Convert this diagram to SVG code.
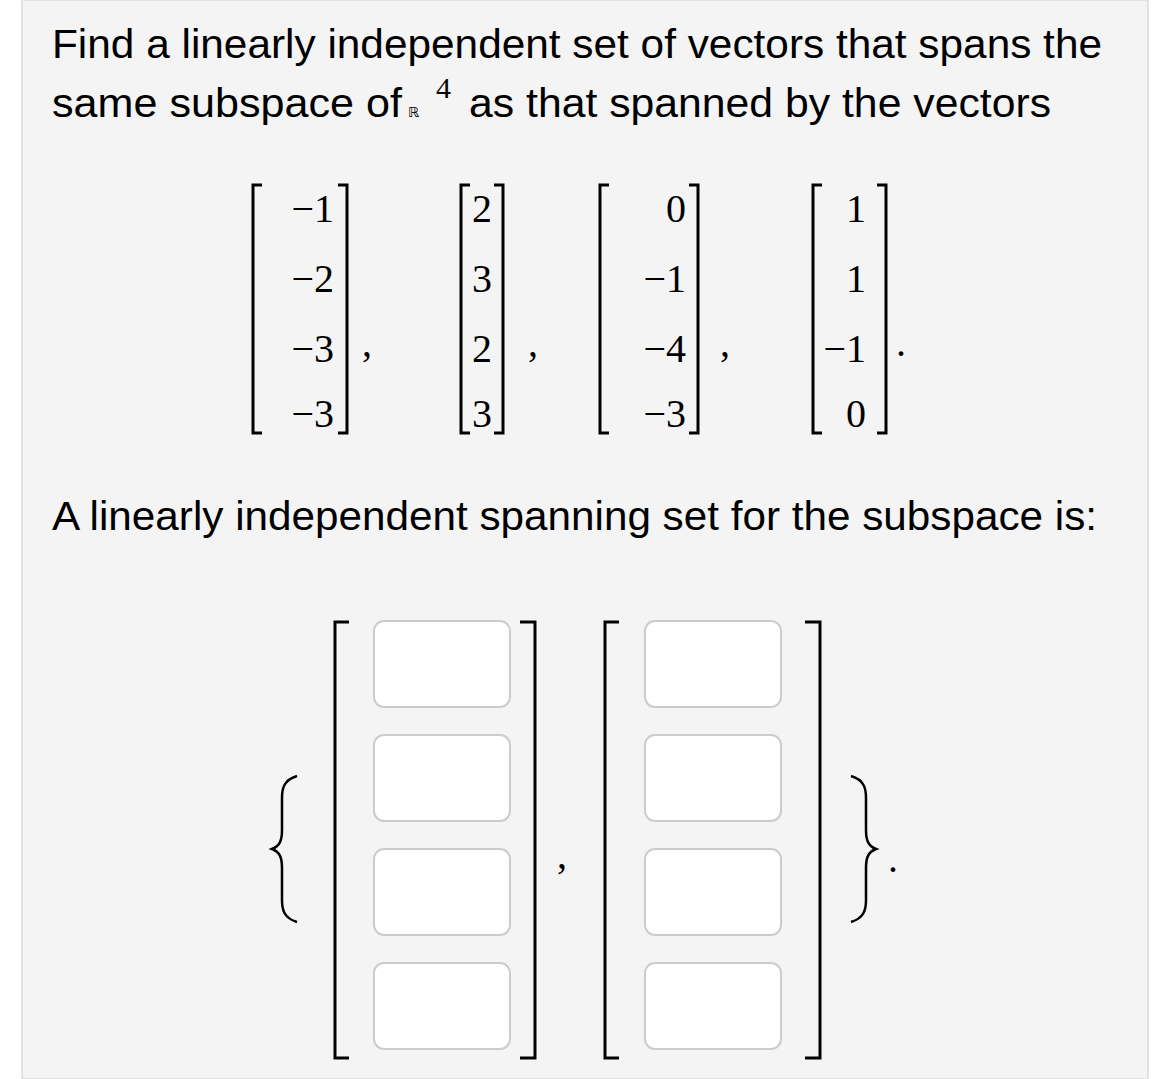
<svg xmlns="http://www.w3.org/2000/svg" width="1170" height="1079" viewBox="0 0 1170 1079">
<style>
.t{font-family:"Liberation Sans",Arial,sans-serif;font-size:41px;fill:#000}
.m{font-family:"Liberation Serif","Times New Roman",serif;font-size:40px;fill:#000}
.br{fill:none;stroke:#000;stroke-width:3}
.box{fill:#fff;stroke:#ccc;stroke-width:2}
</style>
<rect width="1170" height="1079" fill="#fff"/>
<rect x="22" y="0" width="1126" height="1079" fill="#f4f4f4" stroke="#e2e2e2" stroke-width="2"/>
<text class="t" x="52" y="58" textLength="1050" lengthAdjust="spacingAndGlyphs">Find a linearly independent set of vectors that spans the</text>
<text class="t" x="52" y="117" textLength="350" lengthAdjust="spacingAndGlyphs">same subspace of</text>
<text x="408" y="117" style="font-family:'DejaVu Sans',sans-serif;font-size:14px">ℝ</text>
<text class="m" x="436" y="98" style="font-size:30px">4</text>
<text class="t" x="469" y="117" textLength="582" lengthAdjust="spacingAndGlyphs">as that spanned by the vectors</text>
<g id="v1">
<path class="br" d="M262 185H253V433H262M338 185H347V433H338"/>
<g class="m" text-anchor="end"><text x="334" y="222">−1</text><text x="334" y="292">−2</text><text x="334" y="362">−3</text><text x="334" y="427">−3</text></g>
<text class="m" x="362" y="356">,</text></g>
<g id="v2">
<path class="br" d="M470 185H461V433H470M494 185H503V433H494"/>
<g class="m" text-anchor="middle"><text x="482" y="222">2</text><text x="482" y="292">3</text><text x="482" y="362">2</text><text x="482" y="427">3</text></g>
<text class="m" x="528" y="356">,</text></g>
<g id="v3">
<path class="br" d="M609 185H600V433H609M689 185H698V433H689"/>
<g class="m" text-anchor="end"><text x="686" y="222">0</text><text x="686" y="292">−1</text><text x="686" y="362">−4</text><text x="686" y="427">−3</text></g>
<text class="m" x="720" y="356">,</text></g>
<g id="v4">
<path class="br" d="M822 185H813V433H822M877 185H886V433H877"/>
<g class="m" text-anchor="end"><text x="866" y="222">1</text><text x="866" y="292">1</text><text x="866" y="362">−1</text><text x="866" y="427">0</text></g>
<text class="m" x="896" y="356">.</text></g>
<text class="t" x="52" y="530" textLength="1045" lengthAdjust="spacingAndGlyphs">A linearly independent spanning set for the subspace is:</text>
<path d="M297 776C284 780 282 788 282 798V830C282 840 280 846 272 849C280 852 282 858 282 868V900C282 910 284 918 297 922" fill="none" stroke="#000" stroke-width="2.5"/>
<g id="a1">
<path class="br" d="M349 622H335V1058H349M520 622H535V1058H520"/>
<rect class="box" x="374" y="621" width="136" height="86" rx="10"/>
<rect class="box" x="374" y="735" width="136" height="86" rx="10"/>
<rect class="box" x="374" y="849" width="136" height="86" rx="10"/>
<rect class="box" x="374" y="963" width="136" height="86" rx="10"/>
</g>
<text class="m" x="557" y="868">,</text>
<g id="a2">
<path class="br" d="M619 622H605V1058H619M805 622H820V1058H805"/>
<rect class="box" x="645" y="621" width="136" height="86" rx="10"/>
<rect class="box" x="645" y="735" width="136" height="86" rx="10"/>
<rect class="box" x="645" y="849" width="136" height="86" rx="10"/>
<rect class="box" x="645" y="963" width="136" height="86" rx="10"/>
</g>
<path d="M851 776C864 780 866 788 866 798V830C866 840 868 846 876 849C868 852 866 858 866 868V900C866 910 864 918 851 922" fill="none" stroke="#000" stroke-width="2.5"/>
<text class="m" x="888" y="872">.</text>
</svg>
